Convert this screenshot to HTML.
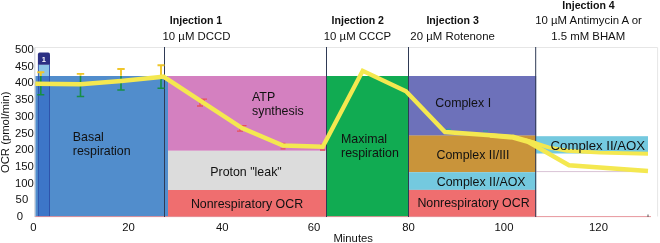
<!DOCTYPE html>
<html><head><meta charset="utf-8">
<style>
html,body{margin:0;padding:0;background:#fff;}
body{width:660px;height:243px;overflow:hidden;}
svg{display:block;}
text{font-family:"Liberation Sans",Arial,sans-serif;fill:#111;}
.b{font-weight:bold;}
</style></head><body>
<svg width="660" height="243" viewBox="0 0 660 243">
<rect width="660" height="243" fill="#fff"/>
<!-- regions -->
<rect x="35.3" y="76" width="132.7" height="140.7" fill="#518dcc"/>
<rect x="38.3" y="76" width="11.3" height="140.7" fill="#3d76c8"/>
<rect x="38.3" y="64.5" width="11.3" height="11.5" fill="#8cc4e6"/>
<rect x="37.9" y="64.5" width="0.9" height="152.2" fill="#2c4fa8"/>
<rect x="49.1" y="64.5" width="0.9" height="152.2" fill="#2c4fa8"/>
<path d="M37.9 64.8V54.4a1.8 1.8 0 0 1 1.8-1.8h8.5a1.8 1.8 0 0 1 1.8 1.8V64.8z" fill="#2b2f83"/>
<text x="43.9" y="62.2" font-size="7.5" class="b" text-anchor="middle" style="fill:#fff">1</text>
<rect x="168" y="76" width="159" height="74.8" fill="#d480c0"/>
<rect x="168" y="150.8" width="159" height="39.2" fill="#dcdcdc"/>
<rect x="168" y="190" width="159" height="26.7" fill="#ef6e6f"/>
<rect x="327" y="76" width="81.6" height="140.7" fill="#11ab52"/>
<rect x="408.6" y="76" width="127.6" height="59.7" fill="#6d71ba"/>
<rect x="408.6" y="135.5" width="127.6" height="36.7" fill="#c9943a"/>
<rect x="408.6" y="172.2" width="127.6" height="17.7" fill="#74c9df"/>
<rect x="408.6" y="189.9" width="127.6" height="26.8" fill="#ef6e6f"/>
<rect x="536" y="136.2" width="112" height="17.3" fill="#74c9df"/>
<line x1="536" y1="171.6" x2="647" y2="171.6" stroke="#d9c3d6" stroke-width="1"/>
<line x1="35" y1="216.6" x2="651" y2="216.6" stroke="#e48a92" stroke-width="0.9"/>
<line x1="648" y1="214.5" x2="648" y2="217" stroke="#555" stroke-width="1"/>
<path d="M35 47.5H657.6V216.5" fill="none" stroke="#e6e6e6" stroke-width="1"/>
<!-- left axis line -->
<line x1="34.8" y1="47.5" x2="34.8" y2="217" stroke="#c9ced6" stroke-width="1"/>
<!-- injection lines -->
<g stroke="#2f3a55" stroke-width="1">
<line x1="164.5" y1="47" x2="164.5" y2="217"/>
<line x1="326.5" y1="47" x2="326.5" y2="217"/>
<line x1="408.5" y1="47" x2="408.5" y2="217"/>
<line x1="535.7" y1="47" x2="535.7" y2="217"/>
</g>
<!-- error bars -->
<g fill="none" stroke="#178f45" stroke-width="1.6">
<path d="M40.8 76V94.8M37.3 94.8h7"/>
<path d="M80.5 76V96.5M76.8 96.5h7.4"/>
<path d="M121 76V90M117.3 90h7.4"/>
<path d="M161 76V88.2M157.5 88.2h7"/>
</g>
<g fill="none" stroke="#f0c62a" stroke-width="1.9">
<path d="M37.3 72.3h7M40.8 72.3v3.7"/>
<path d="M76.8 73.9h7.4M80.5 73.9v1.8"/>
<path d="M117.3 69h7.4M121 69v6.7"/>
<path d="M157.5 65.3h7M161 65.3v10.7"/>
</g>
<!-- small markers -->
<g stroke="#e8505a" stroke-width="1.3" fill="none">
<path d="M201 99.2h6M204 99.2v4M197 106h6M200 106v-4M240.5 125.6h6M243.5 125.6v4M237 131.2h6M240 131.2v-4M280.5 143.3h5M280.5 148.8h5M320 144.3h5M320 150h5"/>
</g>
<g stroke="#2ba39a" stroke-width="1.1" fill="none">
<path d="M446 129.3h5M483 131h5"/>
</g>
<!-- yellow line -->
<g fill="none" stroke="#f4e850" stroke-linejoin="miter" stroke-linecap="butt">
<path stroke-width="4.5" d="M490 135.4 L513 137.6 L528 141.8 L569 165.2 L648 171"/>
<path stroke-width="3.9" d="M525 140 L536 143.3 L548.5 147.4 L567 150.7 L600 152.6 L648 153.8"/>
<path stroke-width="4.4" d="M35.3 83.8 L80.5 84.3 L121 81 L158 77.2 L163.5 76.6 L242 128.1 L283 145.5 L322.8 146.8 L362.7 70.8 L406 91.3 L445 132 L513 136.8 L536 143.3"/>
</g>
<!-- labels -->
<g font-size="12.4">
<text x="72.8" y="141">Basal</text>
<text x="72.8" y="155">respiration</text>
<text x="252" y="100.9">ATP</text>
<text x="252" y="114.8">synthesis</text>
<text x="246" y="176.4" text-anchor="middle">Proton "leak"</text>
<text x="247" y="208" text-anchor="middle">Nonrespiratory OCR</text>
<text x="341" y="143">Maximal</text>
<text x="341" y="157">respiration</text>
<text x="435.3" y="106.7">Complex I</text>
<text x="473" y="159" text-anchor="middle">Complex II/III</text>
<text x="481.2" y="185.8" text-anchor="middle">Complex II/AOX</text>
<text x="473.5" y="206.9" text-anchor="middle">Nonrespiratory OCR</text>
<text x="550.6" y="149.7" font-size="13.2">Complex II/AOX</text>
</g>
<!-- header -->
<g font-size="11.4" text-anchor="middle">
<text class="b" font-size="10.6" x="196" y="23.6">Injection 1</text>
<text x="196.5" y="39.8">10 µM DCCD</text>
<text class="b" font-size="10.6" x="357.8" y="23.6">Injection 2</text>
<text x="357.4" y="39.8">10 µM CCCP</text>
<text class="b" font-size="10.6" x="452.6" y="23.6">Injection 3</text>
<text x="452.6" y="39.8">20 µM Rotenone</text>
<text class="b" font-size="10.6" x="588.5" y="8.7">Injection 4</text>
<text x="588.5" y="23.6">10 µM Antimycin A or</text>
<text x="588.2" y="39.8">1.5 mM BHAM</text>
</g>
<!-- y axis -->
<g font-size="11.3">
<text x="15" y="53.0">500</text>
<text x="15" y="69.7">450</text>
<text x="15" y="86.4">400</text>
<text x="15" y="103.1">350</text>
<text x="15" y="119.8">300</text>
<text x="15" y="136.5">250</text>
<text x="15" y="153.2">200</text>
<text x="15" y="169.9">150</text>
<text x="15" y="186.6">100</text>
<text x="15.6" y="203.3">50</text>
<text x="16.8" y="220.0">0</text>
</g>
<text font-size="11.3" text-anchor="middle" transform="translate(9.2,132.3) rotate(-90)">OCR (pmol/min)</text>
<!-- x axis -->
<g font-size="11.3" text-anchor="middle">
<text x="33.5" y="231">0</text>
<text x="128.5" y="231">20</text>
<text x="222.3" y="231">40</text>
<text x="314" y="231">60</text>
<text x="408.6" y="231">80</text>
<text x="504" y="231">100</text>
<text x="598.5" y="231">120</text>
<text x="353.2" y="241.6">Minutes</text>
</g>
</svg>
</body></html>
